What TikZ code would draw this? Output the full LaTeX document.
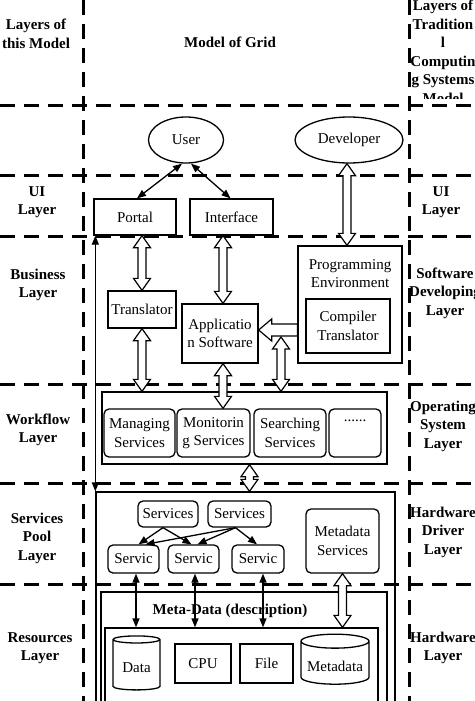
\documentclass[tikz,border=0pt]{standalone}
\usepackage{fontspec}
\setmainfont{Liberation Serif}
\usetikzlibrary{arrows.meta,shapes.geometric,calc}
\newcommand\hollowV[2]{%
  \filldraw[hol] let \p1=(#1), \p2=(#2) in
  (\x1,\y1) -- (\x1-8.5pt,\y1-12pt) -- (\x1-4pt,\y1-12pt) -- (\x1-4pt,\y2+12pt) -- (\x1-8.5pt,\y2+12pt) -- (\x1,\y2) -- (\x1+8.5pt,\y2+12pt) -- (\x1+4pt,\y2+12pt) -- (\x1+4pt,\y1-12pt) -- (\x1+8.5pt,\y1-12pt) -- cycle;}
\newcommand\hollowL[2]{%
  \filldraw[hol] let \p1=(#1), \p2=(#2) in
  (\x2,\y2) -- (\x2+13pt,\y2+11pt) -- (\x2+13pt,\y2+6pt) -- (\x1,\y2+6pt) -- (\x1,\y2-6pt) -- (\x2+13pt,\y2-6pt) -- (\x2+13pt,\y2-11pt) -- cycle;}
\newcommand\lowtext[1]{\raisebox{-3pt}[\height][\depth]{#1}}
\begin{document}
\begin{tikzpicture}[x=1pt,y=-1pt,
  font=\fontsize{15}{18.5}\selectfont,
  bx/.style={draw, line width=1.3pt, inner sep=0pt, align=center},
  rbx/.style={bx, rounded corners=5pt},
  lbl/.style={font=\fontsize{15}{18.5}\selectfont\bfseries, align=center},
  sep/.style={line width=3pt, dash pattern=on 15pt off 9pt},
  tarr/.style={line width=1.3pt, {Triangle[length=9pt,width=7pt]}-{Triangle[length=9pt,width=7pt]}},
  tarr1/.style={line width=1.3pt, -{Triangle[length=9pt,width=7pt]}},
  hol/.style={line width=1.2pt, fill=white, line join=miter},
  cyl/.style={draw, line width=1.3pt, cylinder, shape border rotate=90, aspect=0.25, inner sep=0pt}
]
\useasboundingbox (0,0) rectangle (474,701);
\fill[white] (0,0) rectangle (474,701);
% separators
\foreach \yy in {105,175,236,384,483,584} \draw[sep] (0,\yy) -- (474,\yy);
\foreach \xx in {83,409} \draw[sep] (\xx,0) -- (\xx,701);
% labels
\node[lbl] at (36,34) {Layers of\\this Model};
\node[lbl] at (230,42) {Model of Grid};
\begin{scope}
\clip (0,0) rectangle (474,98);
\node[lbl] at (443,52) {Layers of\\Tradition\\l\\Computin\\g Systems\\Model};
\end{scope}
\node[lbl] at (37,202) {UI\\Layer};
\node[lbl] at (441,202) {UI\\Layer};
\node[lbl] at (38,285) {Business\\Layer};
\node[lbl] at (445,293) {Software\\Developing\\Layer};
\node[lbl] at (38,430) {Workflow\\Layer};
\node[lbl] at (443,426) {Operating\\System\\Layer};
\node[lbl] at (37,538) {Services\\Pool\\Layer};
\node[lbl] at (443,532) {Hardware\\Driver\\Layer};
\node[lbl] at (40,648) {Resources\\Layer};
\node[lbl] at (443,648) {Hardware\\Layer};
% UI
\node[draw, ellipse, line width=1.3pt, minimum width=75pt, minimum height=46pt, inner sep=0pt] (user) at (186,140) {User};
\node[draw, ellipse, line width=1.3pt, minimum width=108pt, minimum height=46pt, inner sep=0pt] (dev) at (349,140) {Developer};
\node[bx, minimum width=82pt, minimum height=36pt] (portal) at (135,217) {Portal};
\node[bx, minimum width=83pt, minimum height=36pt] (iface) at (231.5,217) {Interface};
% business
\node[bx, minimum width=104pt, minimum height=117pt] (progenv) at (350,304.5) {};
\node[align=center] at (350,273.5) {Programming\\Environment};
\node[bx, minimum width=84pt, minimum height=54pt] (compiler) at (348,326) {Compiler\\Translator};
\node[bx, minimum width=68pt, minimum height=37pt] (trans) at (142,309.5) {Translator};
\node[bx, minimum width=76pt, minimum height=59pt] (app) at (220,333.5) {Applicatio\\n Software};
% workflow
\node[bx, minimum width=285pt, minimum height=72pt] (wf) at (244.5,428) {};
\node[rbx, minimum width=71pt, minimum height=48pt] (man) at (139.5,433) {Managing\\Services};
\node[rbx, minimum width=73pt, minimum height=48pt] (mon) at (213.5,433) {Monitorin\\g Services};
\node[rbx, minimum width=72pt, minimum height=48pt] (sea) at (290,433) {Searching\\Services};
\node[rbx, minimum width=52pt, minimum height=48pt] (dots) at (355,433) {......\\\strut};
% services pool
\node[bx, minimum width=299pt, minimum height=228pt] (pool) at (245.5,606) {};
\node[rbx, minimum width=60pt, minimum height=26pt] (svc1) at (168,514) {Services};
\node[rbx, minimum width=63pt, minimum height=26pt] (svc2) at (239.5,514) {Services};
\node[rbx, minimum width=51pt, minimum height=28pt] (s1) at (133.5,559) {Servic};
\node[rbx, minimum width=51pt, minimum height=28pt] (s2) at (193.5,559) {Servic};
\node[rbx, minimum width=52pt, minimum height=28pt] (s3) at (258,559) {Servic};
\node[rbx, minimum width=73pt, minimum height=64pt] (mds) at (342.5,541) {Metadata\\Services};
% resources
\node[bx, minimum width=286pt, minimum height=128pt] (meta) at (244,656) {};
\node[lbl] at (230,611) {Meta-Data (description)};
\node[bx, minimum width=273pt, minimum height=92pt] (res) at (241.5,674) {};
\node[cyl, minimum width=47pt, minimum height=54pt] (data) at (136.5,665) {\lowtext{Data}};
\node[bx, minimum width=56pt, minimum height=39pt] (cpu) at (203,663.5) {CPU};
\node[bx, minimum width=53pt, minimum height=39pt] (file) at (266.5,663.5) {File};
\node[cyl, minimum width=68pt, minimum height=50pt] (mdcyl) at (335,663) {\lowtext{Metadata}};
% thin arrows
\draw[tarr] ($(user.south)+(-4,0)$) -- ($(portal.north)+(2,0)$);
\draw[tarr] ($(user.south)+(5,0)$) -- ($(iface.north)+(-1,0)$);
\draw[tarr] (portal.south west -| pool.north west) -- (pool.north west);
\draw[tarr1] ($(svc1.south)+(-5,0)$) -- ($(s1.north)+(5,0)$);
\draw[tarr1] ($(svc1.south)+(-5,0)$) -- ($(s2.north)+(-2,0)$);
\draw[tarr1] ($(svc2.south)+(-4,0)$) -- ($(s1.north)+(12,0)$);
\draw[tarr1] ($(svc2.south)+(-4,0)$) -- ($(s2.north)+(4,0)$);
\draw[tarr1] ($(svc2.south)+(-4,0)$) -- ($(s3.north)+(-1,0)$);
\coordinate (v1) at ($(s1.south)+(2.5,0)$);
\coordinate (v2) at ($(s2.south)+(1.5,0)$);
\coordinate (v3) at ($(s3.south)+(5,0)$);
\draw[tarr] (v1) -- (v1 |- res.north);
\draw[tarr] (v2) -- (v2 |- res.north);
\draw[tarr] (v3) -- (v3 |- res.north);
% hollow arrows
\coordinate (d1) at ($(dev.south)+(-2,0)$);
\hollowV{d1}{d1 |- progenv.north}
\hollowV{trans.north |- portal.south}{trans.north}
\hollowV{trans.south}{trans.south |- wf.north}
\coordinate (a1) at ($(app.north)+(3,0)$);
\hollowV{a1 |- iface.south}{a1}
\hollowV{app.south -| a1}{a1 |- mon.north}
\coordinate (hy) at (0,330);
\hollowL{progenv.west |- hy}{app.east |- hy}
\coordinate (fx) at (281,337);
\hollowV{fx}{fx |- wf.north}
\coordinate (w1) at ($(wf.south)+(5,0)$);
\hollowV{w1}{w1 |- pool.north}
\hollowV{mds.south}{mds.south |- res.north}
\end{tikzpicture}
\end{document}
